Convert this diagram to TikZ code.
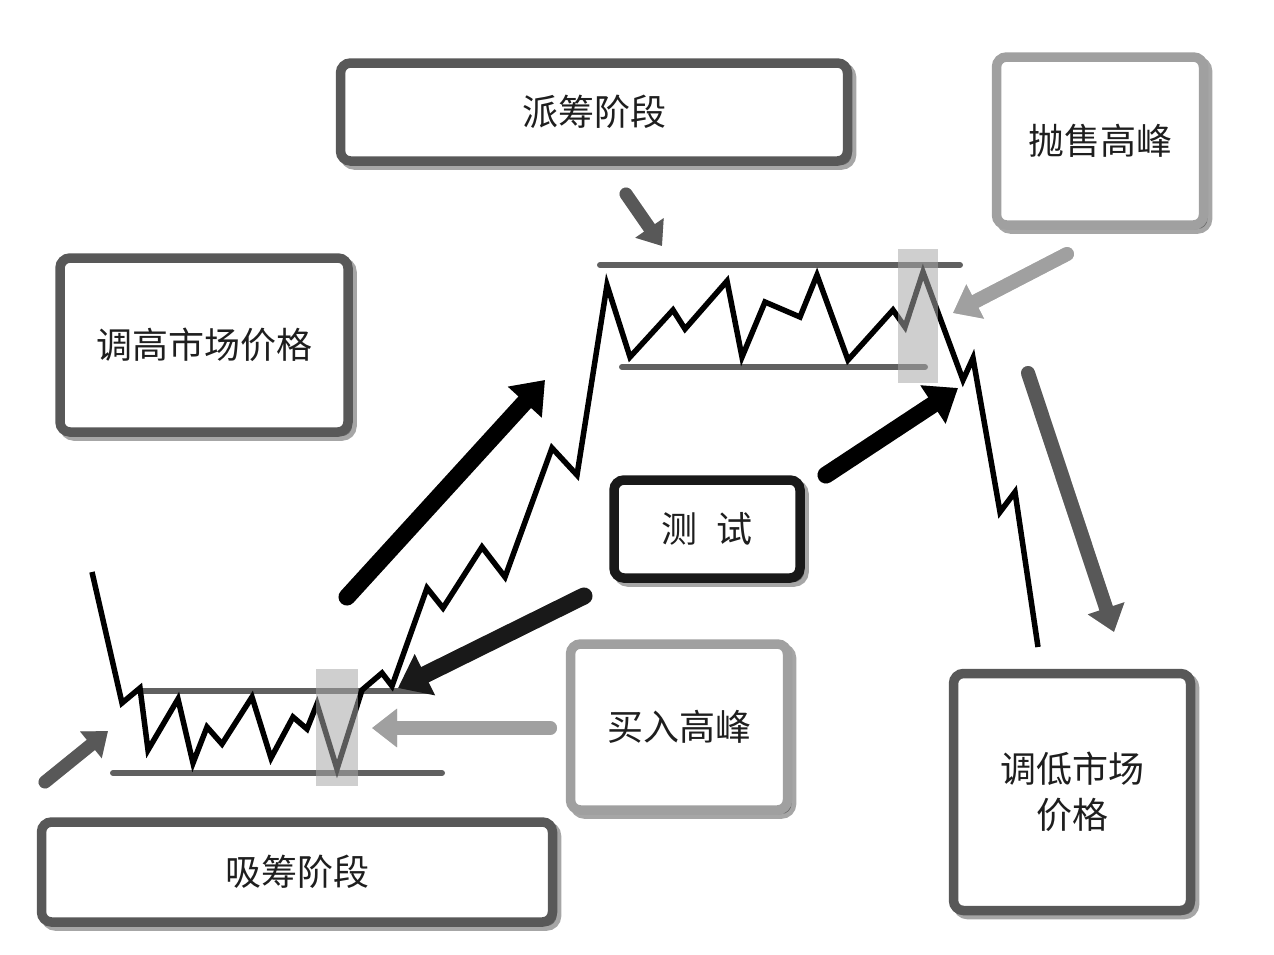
\documentclass[tikz,border=0pt]{standalone}
\usepackage{fontspec}
\setmainfont{Noto Sans CJK SC}
\usetikzlibrary{arrows.meta,shadows}
\definecolor{dkgray}{RGB}{88,88,88}
\definecolor{ltgray}{RGB}{160,160,160}
\definecolor{rangeline}{RGB}{96,96,96}
\definecolor{hlcol}{RGB}{167,167,167}
\definecolor{txt}{RGB}{30,30,30}
\definecolor{nearblack}{RGB}{25,25,25}
\newcommand{\shadearrow}[4]{%
  \draw[#1, draw=black, opacity=.22, shift={(4,4)}] (#2) -- (#3);
  \draw[#1, draw=#4] (#2) -- (#3);}
\begin{document}
\begin{tikzpicture}[x=1pt,y=-1pt,
  box/.style={draw, rounded corners=10pt, fill=white, line width=9.5pt,
    text=txt, font=\fontsize{36}{46}\selectfont, align=center, inner sep=0pt,
    drop shadow={shadow xshift=4pt, shadow yshift=-4pt, opacity=0.35,
      fill=black, draw=black, line width=9.5pt}},
  price/.style={line width=5.5pt, line join=miter, draw=black},
  rng/.style={line width=6pt, line cap=round, draw=rangeline},
  hl/.style={fill=hlcol, opacity=0.54},
  bigarrow/.style={line width=17pt, line cap=round, -{Triangle[length=30pt,width=44pt]}},
  midarrow/.style={line width=14pt, line cap=round, -{Triangle[length=25pt,width=37pt]}},
  smallarrow/.style={line width=13pt, line cap=round, -{Triangle[length=22pt,width=33pt]}}
]
\useasboundingbox (0,0) rectangle (1274,954);

% boxes
\node[box, draw=dkgray, minimum width=507pt, minimum height=98pt] (pai) at (594,112) {派筹阶段};
\node[box, draw=ltgray, minimum width=207pt, minimum height=168pt] (paoshou) at (1100,141) {抛售高峰};
\node[box, draw=dkgray, minimum width=288pt, minimum height=174pt] (tiaogao) at (204,345) {调高市场价格};
\node[box, draw=nearblack, minimum width=186pt, minimum height=98pt] (ceshi) at (707,529) {测\hspace{0.55em}试};
\node[box, draw=ltgray, minimum width=217pt, minimum height=166pt] (mairu) at (679,727) {买入高峰};
\node[box, draw=dkgray, minimum width=511pt, minimum height=100pt] (xichou) at (297,872) {吸筹阶段};
\node[box, draw=dkgray, minimum width=237pt, minimum height=237pt] (tiaodi) at (1072,792) {调低市场\\价格};

% range lines
\draw[rng] (137,691) coordinate (lt1) -- (428,691) coordinate (lt2);
\draw[rng] (113,773) coordinate (lb1) -- (442,773) coordinate (lb2);
\draw[rng] (600,265) coordinate (ut1) -- (960,265) coordinate (ut2);
\draw[rng] (622,367) coordinate (ub1) -- (925,367) coordinate (ub2);

% price line
\draw[price] (92,572) -- (122,703) -- (140,688) -- (148,750) -- (178,699) -- (193,763)
  -- (207,727) -- (222,744) -- (252,697) -- (271,758) -- (293,717) -- (307,729)
  -- (317,704) -- (337,769) -- (362,690) -- (382,673) -- (392,686) -- (427,588)
  -- (443,608) -- (482,547) -- (505,577) -- (552,448) -- (577,475) -- (607,285)
  -- (630,357) -- (673,310) -- (685,329) -- (727,281) -- (742,357) -- (765,302)
  -- (800,317) -- (817,275) -- (848,360) -- (893,310) -- (905,327) -- (923,272)
  -- (963,380) -- (973,358) -- (1000,512) -- (1015,492) -- (1038,647);

% highlights
\fill[hl] (316,669) rectangle (358,786);
\fill[hl] (898,249) rectangle (938,383);

% arrow end points
\coordinate (a1s) at (347,597);  \coordinate (a1e) at (545,380);
\coordinate (a2s) at (584,596);  \coordinate (a2e) at (398,688);
\coordinate (a3s) at (826,475);  \coordinate (a3e) at (958,388);
\coordinate (a4s) at (550,728);  \coordinate (a4e) at (372,728);
\coordinate (a5s) at (1067,254); \coordinate (a5e) at (953,313);
\coordinate (a6s) at (1028,373); \coordinate (a6e) at (1114,632);
\coordinate (a7s) at (626,194);  \coordinate (a7e) at (662,246);
\coordinate (a8s) at (45,782);   \coordinate (a8e) at (108,731);

\shadearrow{bigarrow}{a1s}{a1e}{black}
\shadearrow{bigarrow}{a2s}{a2e}{nearblack}
\shadearrow{bigarrow}{a3s}{a3e}{black}
\shadearrow{midarrow}{a4s}{a4e}{ltgray}
\shadearrow{midarrow}{a5s}{a5e}{ltgray}
\shadearrow{midarrow}{a6s}{a6e}{dkgray}
\shadearrow{smallarrow}{a7s}{a7e}{dkgray}
\shadearrow{smallarrow}{a8s}{a8e}{dkgray}
\end{tikzpicture}
\end{document}
